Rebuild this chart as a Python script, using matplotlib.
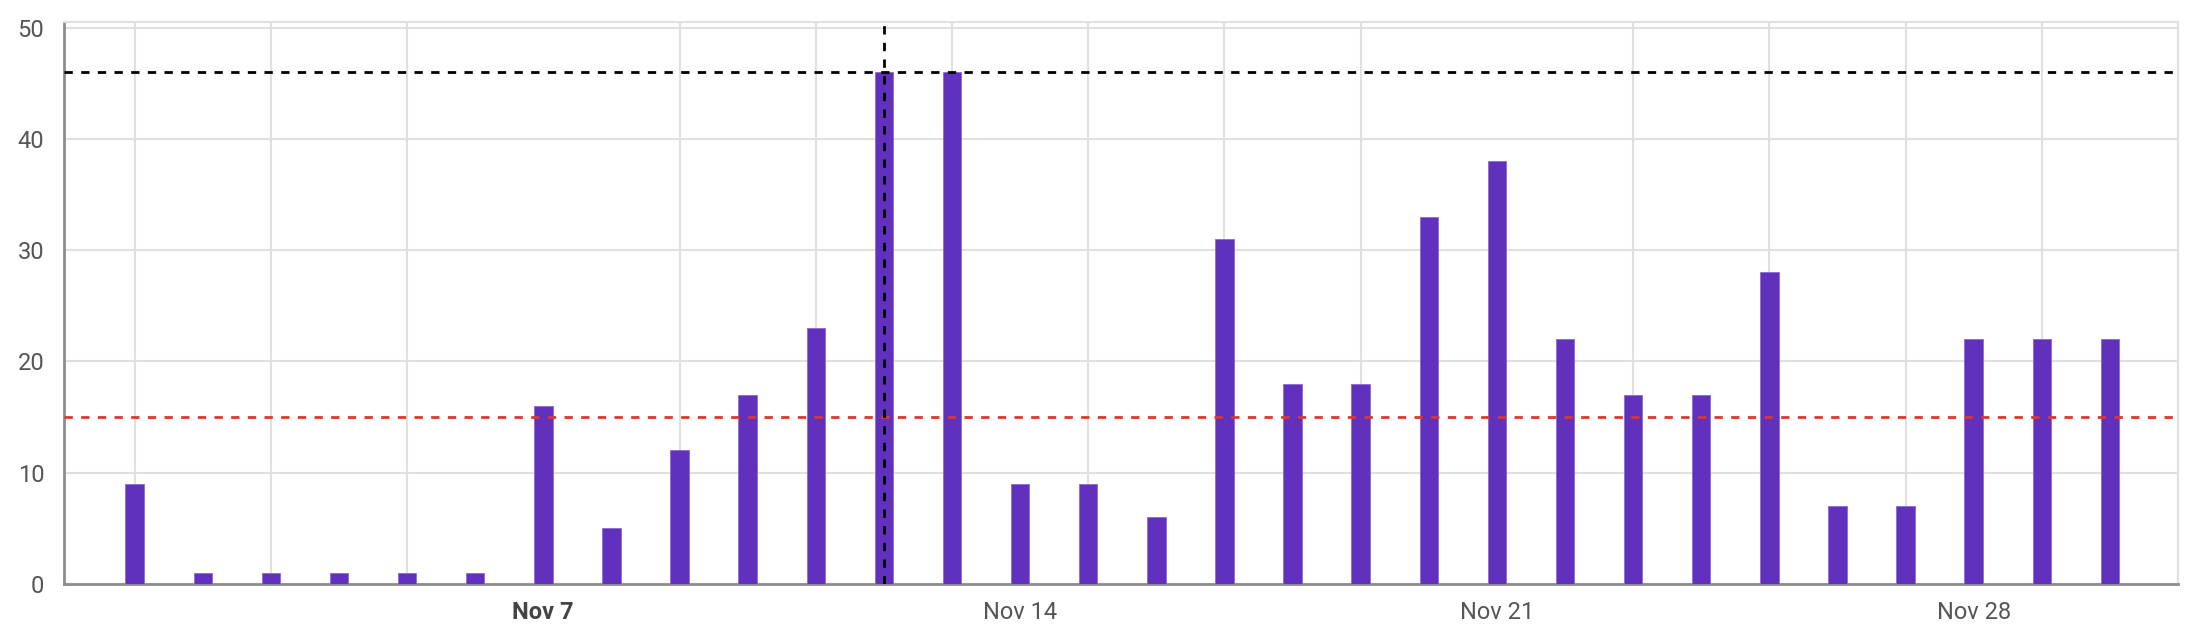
import numpy as np
import matplotlib.pyplot as plt
from matplotlib.ticker import FixedLocator

plt.rcParams['font.family'] = ['Roboto', 'DejaVu Sans']

# daily counts, Nov 1 .. Nov 30
days = list(range(1, 31))
counts = [9, 1, 1, 1, 1, 1, 16, 5, 12, 17, 23, 46, 46, 9, 9, 6, 31, 18, 18, 33,
          38, 22, 17, 17, 28, 7, 7, 22, 22, 22]

label_days = [7, 14, 21, 28]
labels = ["Nov 7", "Nov 14", "Nov 21", "Nov 28"]
today = 7
marker_day = 12
peak_line = 46
target_line = 15

fig = plt.figure(figsize=(22, 6.34), dpi=100)
ax = fig.add_axes([0.029, 0.079, 0.961, 0.886])

ax.bar(days, counts, width=0.27, color="#6131bd", edgecolor="#8a6ad6",
       linewidth=0.6, zorder=3)

ax.axhline(peak_line, color="black", lw=2, ls=(0, (3, 3)), zorder=4)
ax.axhline(target_line, color="#e0352d", lw=2, ls=(0, (3, 3)), zorder=4)
ax.axvline(marker_day, color="black", lw=2, ls=(0, (3, 3)), zorder=4)

ax.set_xlim(-0.04, 31)
ax.set_ylim(0, 50.5)

ax.set_yticks(range(0, 51, 10))
ax.set_xticks(label_days)
ax.set_xticklabels(labels)
ax.xaxis.set_minor_locator(FixedLocator(list(range(1, 32, 2))))

ax.grid(axis="y", color="#e0e0e0", lw=1.5, zorder=0)
ax.grid(axis="x", which="minor", color="#e0e0e0", lw=1.5, zorder=0)
ax.grid(axis="x", which="major", visible=False)
ax.set_axisbelow(True)

ax.tick_params(axis="both", which="both", length=0, labelsize=17,
               labelcolor="#555555")
ax.tick_params(axis="x", pad=12)
ax.tick_params(axis="y", pad=14)
for lab, d in zip(ax.get_xticklabels(), label_days):
    if d == today:
        lab.set_fontweight("bold")
        lab.set_color("#444444")

for side in ["top", "right"]:
    ax.spines[side].set_color("#e0e0e0")
    ax.spines[side].set_linewidth(1.5)
for side in ["left", "bottom"]:
    ax.spines[side].set_color("#8c8c8c")
    ax.spines[side].set_linewidth(2)

fig.savefig("out.png", dpi=100)
